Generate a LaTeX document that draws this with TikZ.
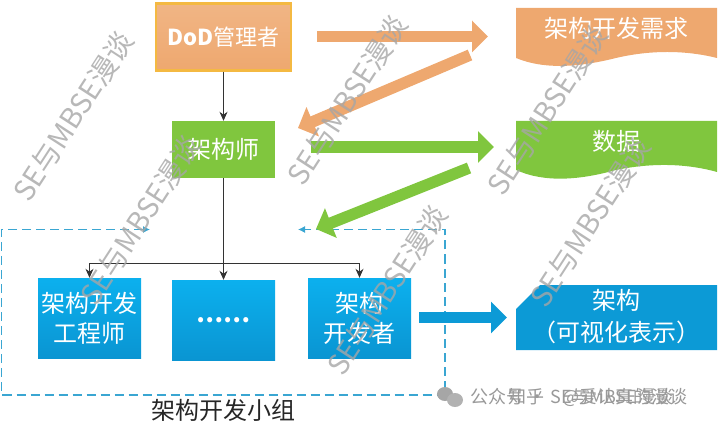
\documentclass[tikz,border=0pt]{standalone}
\usepackage{fontspec}
\setmainfont{Noto Sans CJK SC}
\usetikzlibrary{arrows.meta}
\definecolor{peach}{HTML}{EEA86F}
\definecolor{leaf}{HTML}{80C63E}
\definecolor{sky}{HTML}{0C9AD6}
\definecolor{skytop}{HTML}{0CB0EE}
\definecolor{skybot}{HTML}{0A95D2}
\definecolor{dashblue}{HTML}{3AA6D2}
\definecolor{gold}{HTML}{F4B942}
\tikzset{
	box/.style={minimum width=103pt, minimum height=80pt, inner sep=0pt, text=white, align=center, font=\fontsize{24}{30}\selectfont},
	bluebox/.style={box, top color=skytop, bottom color=skybot},
	lbl/.style={text=white, inner sep=0pt, align=center, font=\fontsize{24}{32}\selectfont},
	conn/.style={draw=black!80, line width=0.9pt, -{Stealth[length=9pt,width=8pt]}},
	bigarrow/.style={line width=11.5pt, -{Triangle[length=16pt,width=31pt]}},
	grpline/.style={dashblue, line width=1.15pt},
	wmark/.style={text=gray!70, opacity=0.8, rotate=57, inner sep=0pt, font=\fontsize{28.5}{28.5}\selectfont},
	footer/.style={anchor=west, inner sep=0pt, text=gray!80, font=\fontsize{18}{18}\selectfont},
}
\begin{document}
\begin{tikzpicture}[x=1pt,y=-1pt]
	\useasboundingbox (0,0) rectangle (719,427);

	% Gruppe
	\coordinate (grpstart) at (143,229.5);
	\coordinate (grpend) at (305,229.5);
	\coordinate (tipstart) at (150,229.5);
	\coordinate (tipend) at (298,229.5);
	\draw[grpline, dash pattern=on 9pt off 5pt] (grpstart) -- (1.5,229.5) -- (1.5,395) -- (445,395) -- (445,229.5) -- (grpend);
	\draw[grpline, -{Latex[length=7pt,width=7pt]}] (grpstart) -- (tipstart);
	\draw[grpline, -{Latex[length=7pt,width=7pt]}] (grpend) -- (tipend);
	\node (grplabel) [font=\fontsize{24}{24}\selectfont, text=black!85] at (223,410) {架构开发小组};

	% Manager
	\node (manager) [box, minimum width=135pt, minimum height=67pt, draw=gold, line width=2.4pt, top color=peach!85!white, bottom color=peach, font=\fontsize{22}{22}\selectfont] at (223.5,37) {\textbf{DoD}管理者};
	\node (architect) [box, minimum height=57pt, fill=leaf] at (223.5,149.5) {架构师};
	\draw[conn] (manager) -- (architect);

	% Team
	\node (engineer) [bluebox] at (89.5,318) {架构开发\\工程师};
	\node (others) [bluebox] at (223.5,320) {\textbf{……}};
	\node (developer) [bluebox] at (359.5,318) {架构\\开发者};
	\coordinate (branch) at (223.5,263.5);
	\draw[conn] (architect) -- (others);
	\draw[conn] (branch) -| (engineer);
	\draw[conn] (branch) -| (developer);

	% Dokumente
	\fill[peach] (516,8) -- (717,8) -- (717,58) .. controls (685,50) and (650,50) .. (616,58) .. controls (580,67) and (545,70) .. (516,58) -- cycle;
	\node (reqtext) [lbl] at (616,28) {架构开发需求};
	\fill[leaf] (516,121) -- (717,121) -- (717,172) .. controls (685,163) and (650,163) .. (616,170) .. controls (580,180) and (545,183) .. (516,170) -- cycle;
	\node (datatext) [lbl] at (616,141) {数据};
	\fill[sky] (540,285) -- (717,285) -- (717,350) -- (516,350) -- (516,309) -- cycle;
	\node (archtext) [lbl] at (616,316.5) {架构\\（可视化表示）};

	% Block-Pfeile
	\coordinate (a) at (317,36.5);
	\coordinate (b) at (488,36.5);
	\coordinate (c) at (470,55);
	\coordinate (d) at (298,128);
	\coordinate (e) at (311,147);
	\coordinate (f) at (494,147);
	\coordinate (g) at (469,168);
	\coordinate (h) at (316,229);
	\coordinate (i) at (419,317.5);
	\coordinate (j) at (507,317.5);
	\draw[bigarrow, peach] (a) -- (b);
	\draw[bigarrow, peach] (c) -- (d);
	\draw[bigarrow, leaf] (e) -- (f);
	\draw[bigarrow, leaf] (g) -- (h);
	\draw[bigarrow, sky] (i) -- (j);

	% Wasserzeichen
	\node (wm1) [wmark] at (73,116) {SE与MBSE漫谈};
	\node (wm2) [wmark] at (140,220) {SE与MBSE漫谈};
	\node (wm3) [wmark] at (347,100) {SE与MBSE漫谈};
	\node (wm4) [wmark] at (387,290) {SE与MBSE漫谈};
	\node (wm5) [wmark] at (547,110) {SE与MBSE漫谈};
	\node (wm6) [wmark] at (590,222) {SE与MBSE漫谈};

	% Logo
	\fill[gray!70] (445,394) ellipse (8pt and 7pt);
	\fill[gray!60] (455,400) ellipse (8pt and 7pt);
	\node (footera) [footer] at (470,397) {公众号 · SE与MBSE漫谈};
	\node (footerb) [footer] at (508,397) {知乎\quad @爱认真的漫谈};
\end{tikzpicture}
\end{document}
